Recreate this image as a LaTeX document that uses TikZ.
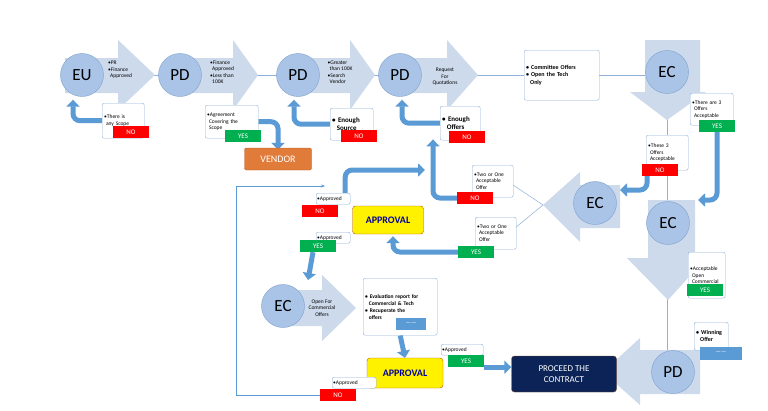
\documentclass[tikz,border=0pt]{standalone}
\usepackage{fontspec}
\setmainfont{Carlito}
\usetikzlibrary{arrows.meta,calc}
\definecolor{lt}{HTML}{CCDAEC}
\definecolor{cf}{HTML}{A9C4E6}
\definecolor{cb}{HTML}{7F9FCB}
\definecolor{bl}{HTML}{5B9BD5}
\definecolor{bd}{HTML}{8FB0D8}
\definecolor{gr}{HTML}{00B050}
\definecolor{nv}{HTML}{0B2357}
\definecolor{og}{HTML}{E07B39}
\pgfdeclarelayer{back}\pgfdeclarelayer{conn}
\pgfsetlayers{back,conn,main}
\tikzset{
 circ/.style={circle,draw=cb,fill=cf,minimum size=43pt,inner sep=0pt,font=\fontsize{17}{17}\selectfont},
 lbl/.style={draw=bd,fill=white,rounded corners=2pt,anchor=north west,align=left,inner sep=2pt,font=\fontsize{5.5}{6.5}\selectfont},
 no/.style={fill=red,text=white,minimum width=36pt,minimum height=12pt,inner sep=0pt,font=\fontsize{7}{7}\selectfont},
 yes/.style={no,fill=gr},
 conn/.style={draw=bl,line width=5pt,rounded corners=7pt,-{Triangle[width=13pt,length=7pt]}},
 thin/.style={draw=bd,line width=0.5pt},
 tx/.style={font=\fontsize{5.5}{6.5}\selectfont,align=left},
 appr/.style={draw=orange!70!black,fill=yellow,rounded corners=3pt,text=blue!60!black,font=\bfseries\fontsize{10}{10}\selectfont},
}
\begin{document}
\begin{tikzpicture}[x=1pt,y=-1pt]
\useasboundingbox (0,0) rectangle (768,410);
\begin{pgfonlayer}{back}
\fill[white] (0,0) rectangle (768,410);
\draw[thin] (150,75) -- (645,75);
\draw[thin] (667,110) -- (667,350);
\draw[thin] (543,205) -- (513,185);
\draw[thin] (543,205) -- (515,228);
\foreach \a/\b/\c in {65/118/155,175/233/258,290/350/375,400/447/478}
 \fill[lt] (\a,58) -- (\b,58) -- (\b,40) -- (\c,75) -- (\b,110) -- (\b,93) -- (\a,93) -- cycle;
\fill[lt] (280,290) -- (322,290) -- (322,275) -- (356,308) -- (322,341) -- (322,326) -- (280,326) -- cycle;
\fill[lt] (645,40) -- (700,40) -- (700,92) -- (706,92) -- (667,120) -- (630,92) -- (645,92) -- cycle;
\fill[lt] (620,185) -- (580,185) -- (580,172) -- (543,205) -- (580,242) -- (580,228) -- (620,228) -- cycle;
\fill[lt] (648,200) -- (695,200) -- (695,258) -- (706,258) -- (668,300) -- (627,258) -- (648,258) -- cycle;
\fill[lt] (700,350) -- (640,350) -- (640,338) -- (603,372) -- (640,405) -- (640,394) -- (700,394) -- cycle;
\end{pgfonlayer}
% circles
\node[circ] (eu) at (82,75) {EU};
\node[circ] (pd1) at (180,75) {PD};
\node[circ] (pd2) at (298,75) {PD};
\node[circ] (pd3) at (400,75) {PD};
\node[circ] (ec1) at (667,72) {EC};
\node[circ] (ec2) at (595,203) {EC};
\node[circ] (ec3) at (668,223) {EC};
\node[circ] (ec4) at (283,306) {EC};
\node[circ] (pd4) at (673,372) {PD};
% arrow texts
\node[tx] (t1) at (120,70) {•PR\\•Finance\\\ \,Approved};
\node[tx] (t2) at (222,72) {•Finance\\\ \,Approved\\•Less than\\\ \,100K};
\node[tx] (t3) at (340,72) {•Greater\\\ \,than 100K\\•Search\\\ \,Vendor};
\node[tx,align=center] (t4) at (445,77) {Request\\For\\Quotations};
\node[tx,align=center] (t5) at (322,308) {Open For\\Commercial\\Offers};
% label boxes
\node[lbl,text width=38pt,minimum height=35pt] (b1) at (102,103) {•There is\\\ any Scope\\[9pt]};
\node[no] (n1) at (131,132) {NO};
\node[lbl,text width=49pt,minimum height=33pt] (b2) at (205,105) {•Agreement\\\ Covering the\\\ Scope\\[3pt]};
\node[yes] (y2) at (243,136) {YES};
\node[draw=og!80!black,fill=og,text=white,rounded corners=2pt,minimum width=67pt,minimum height=22pt,font=\fontsize{10}{10}\selectfont] (vendor) at (278,159) {VENDOR};
\node[lbl,text width=39pt,minimum height=32pt,font=\bfseries\fontsize{7}{8}\selectfont] (b3) at (330,108) {• Enough\\\ \ Source\\[5pt]};
\node[no] (n3) at (359,136) {NO};
\node[lbl,text width=36pt,minimum height=34pt,font=\bfseries\fontsize{7}{8}\selectfont] (b4) at (440,106) {• Enough\\\ \ Offers\\[5pt]};
\node[no] (n4) at (467,137) {NO};
\node[lbl,text width=71pt,minimum height=50pt,font=\bfseries\fontsize{6}{7.5}\selectfont,anchor=north west] (b5) at (524,50) {• Committee Offers\\• Open the Tech\\\ \ Only\\[10pt]};
\node[lbl,text width=39pt,minimum height=32pt] (b6) at (690,93) {•There are 3\\\ Offers\\\ Acceptable\\[5pt]};
\node[yes] (y6) at (717,126) {YES};
\node[lbl,text width=38pt,minimum height=35pt] (b7) at (646,135) {•These 3\\\ Offers\\\ Acceptable\\[6pt]};
\node[no] (n7) at (660,170) {NO};
\node[lbl,text width=37pt,minimum height=32pt] (b8) at (472,165) {•Two or One\\\ Acceptable\\\ Offer\\[5pt]};
\node[no] (n8) at (475,198) {NO};
\node[lbl,text width=37pt,minimum height=32pt] (b9) at (475,217) {•Two or One\\\ Acceptable\\\ Offer\\[5pt]};
\node[yes] (y9) at (476,252) {YES};
\node[lbl,text width=33pt,minimum height=46pt] (b10) at (688,252) {•Acceptable\\\ Open\\\ Commercial\\[13pt]};
\node[yes] (y10) at (705,290) {YES};
\node[lbl,text width=30pt,minimum height=28pt,font=\bfseries\fontsize{6}{7}\selectfont] (b11) at (694,322) {• Winning\\\ \ Offer\\[5pt]};
\node[fill=bl,text=white,minimum width=42pt,minimum height=13pt,inner sep=0pt,font=\fontsize{6}{6}\selectfont] (d11) at (721,353) {------};
\node[appr,minimum width=71pt,minimum height=28pt] (ap1) at (388,220) {APPROVAL};
\node[lbl,text width=32pt,minimum height=11pt,inner sep=1pt] (b12) at (316,193) {•Approved};
\node[no] (n12) at (320,211) {NO};
\node[lbl,text width=32pt,minimum height=11pt,inner sep=1pt] (b13) at (316,232) {•Approved};
\node[yes] (y13) at (318,246) {YES};
\node[lbl,text width=70pt,minimum height=57pt,font=\bfseries\fontsize{5.5}{7}\selectfont] (b14) at (363,278) {• Evaluation report for\\\ \ Commercial \& Tech\\• Recuperate the\\\ \ offers\\[17pt]};
\node[fill=bl,text=white,minimum width=30pt,minimum height=12pt,inner sep=0pt,font=\fontsize{6}{6}\selectfont] (d14) at (411,324) {------};
\node[appr,minimum width=76pt,minimum height=30pt] (ap2) at (405,373) {APPROVAL};
\node[lbl,text width=40pt,minimum height=11pt,inner sep=1pt] (b15) at (441,344) {•Approved};
\node[yes] (y15) at (466,361) {YES};
\node[lbl,text width=42pt,minimum height=11pt,inner sep=1pt] (b16) at (332,377) {•Approved};
\node[no] (n16) at (338,395) {NO};
\node[draw=og!60!black,fill=nv,text=white,rounded corners=3pt,minimum width=105pt,minimum height=36pt,align=center,font=\fontsize{9}{11}\selectfont] (pc) at (564,374) {PROCEED THE\\CONTRACT};
% connectors
\coordinate (c1) at (425,170);
\coordinate (c2) at (308,280);
\coordinate (c3) at (620,190);
\coordinate (c4) at (698,200);
\coordinate (c5) at (325,186);
\begin{pgfonlayer}{conn}
\draw[conn] (b1.west) -| ([xshift=-9pt,yshift=-3pt]eu.south);
\draw[conn] (b2.east) -| ([yshift=-2pt]vendor.north);
\draw[conn] (b3.west) -| ([xshift=-4pt,yshift=-3pt]pd2.south);
\draw[conn] (b4.west) -| ([xshift=2pt,yshift=-3pt]pd3.south);
\draw[conn] (n8.west) -| ([xshift=-7pt,yshift=1pt]b4.south west);
\draw[conn] (y9.west) -| ([xshift=5pt,yshift=-2pt]ap1.south);
\draw[conn] ([xshift=12pt]b12.north) |- (c1);
\draw[conn] ([xshift=-5pt]y13.south) -- (c2);
\draw[conn] (b14.south) -- (ap2.north);
\draw[conn] (y15.south east) -- (pc.west |- y15.south east);
\draw[conn] ([xshift=-13pt]n7.south) |- (c3);
\draw[conn] (y6.south) |- (c4);
\draw[thin,draw=bl,-{Stealth[length=4pt]}] (n16.west) -| (236,186) -- (c5);
\end{pgfonlayer}
\end{tikzpicture}
\end{document}
